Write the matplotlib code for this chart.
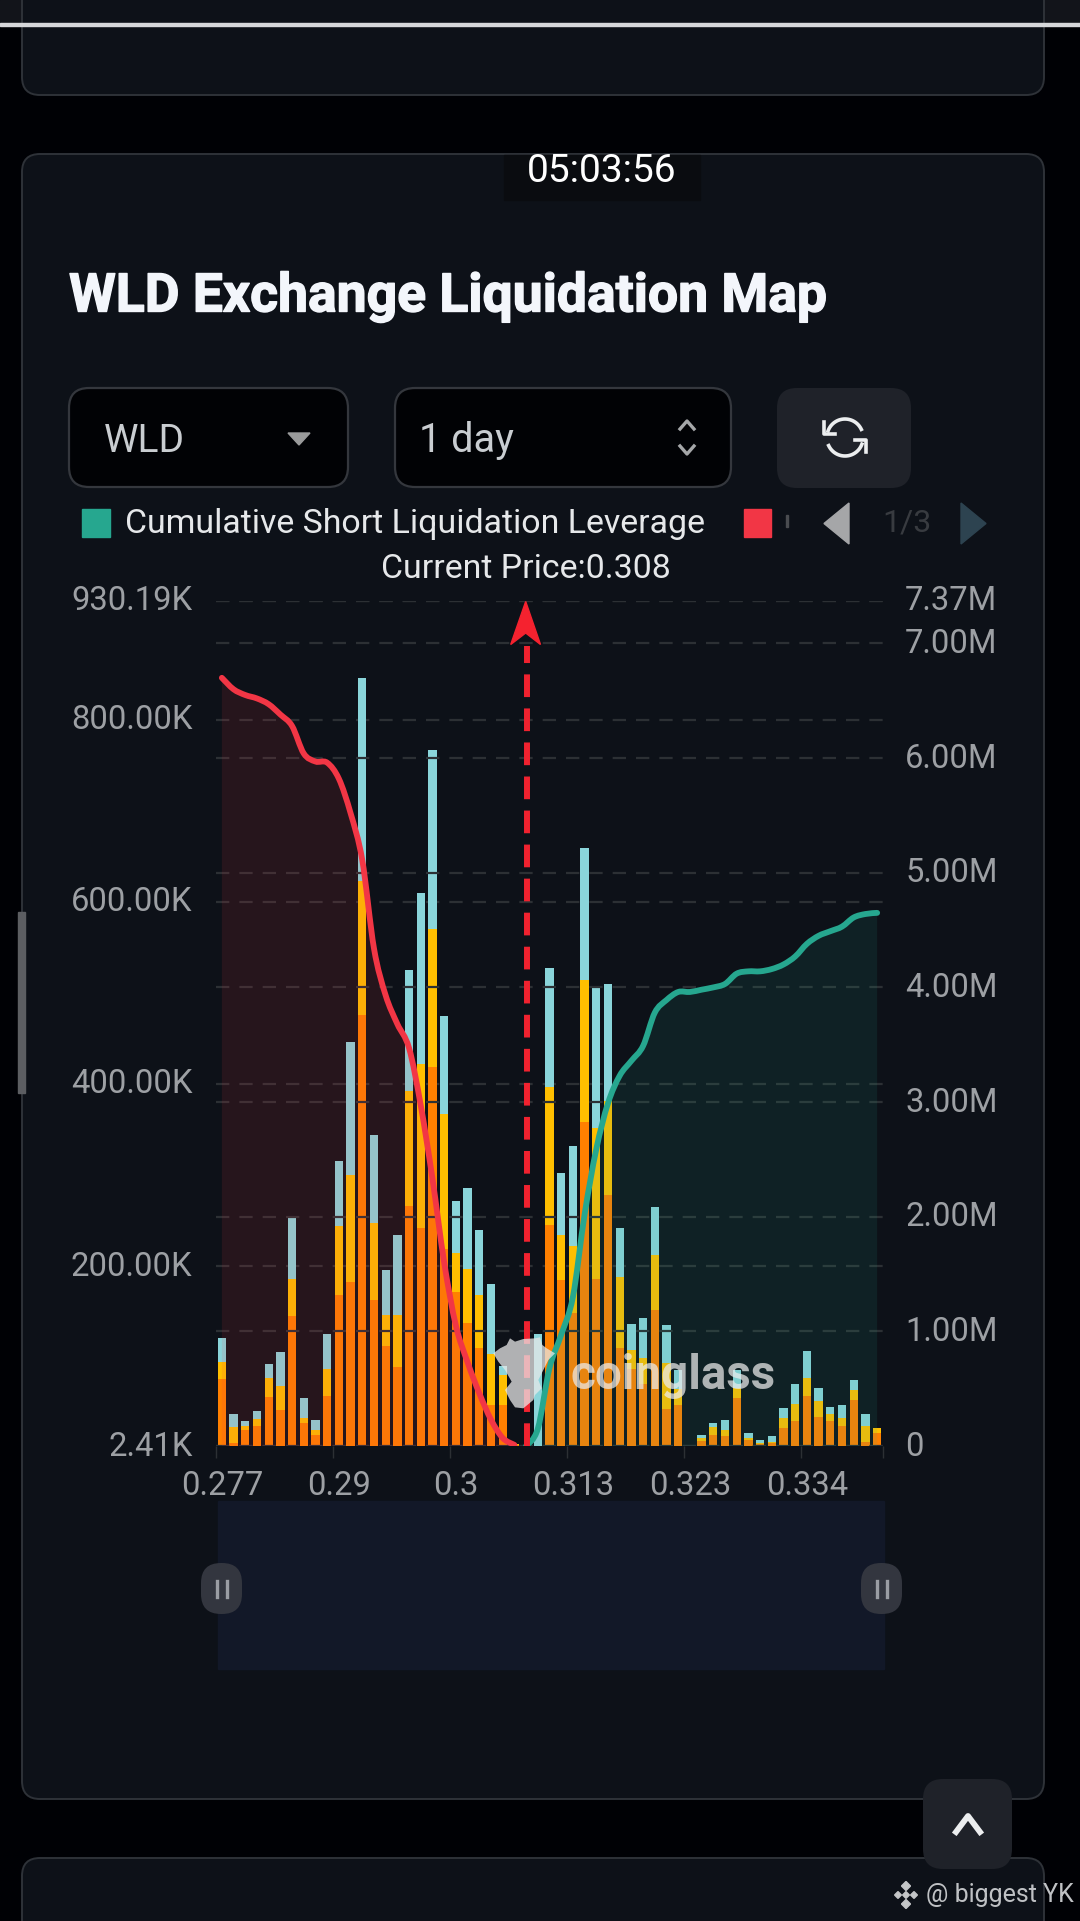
#python3 WLD liquidation map screenshot
import matplotlib
matplotlib.use('Agg')
import matplotlib.pyplot as plt
import matplotlib.patches as patches
import matplotlib.patheffects as effects
from matplotlib.path import Path
from matplotlib.transforms import ScaledTranslation
import numpy as np

W, H = 1080, 1921

priceLabels = ['0.277', '0.29', '0.3', '0.313', '0.323', '0.334']
leftTicks = [2.41, 200, 400, 600, 800, 930.19]
leftLabels = ['2.41K', '200.00K', '400.00K', '600.00K', '800.00K', '930.19K']
rightTicks = [0, 1, 2, 3, 4, 5, 6, 7, 7.37]
rightLabels = ['0', '1.00M', '2.00M', '3.00M', '4.00M', '5.00M', '6.00M', '7.00M', '7.37M']

# top of each stacked segment per price bin, in K
orangeTop = [75.9, 5.9, 20.2, 24.2, 55.8, 42.0, 144.8, 27.7, 14.5, 56.9,
             168.3, 182.1, 475.4, 163.1, 112.0, 89.1, 265.9, 242.3, 418.6, 218.2,
             171.2, 137.3, 109.7, 47.2, 47.7, 3.5, 2.41, 2.41, 245.0, 184.9,
             147.9, 358.1, 185.8, 278.2, 110.0, 86.9, 70.8, 151.2, 43.1, 47.2,
             2.41, 8.4, 14.9, 13.0, 55.5, 9.3, 4.7, 5.6, 21.8, 30.1,
             57.4, 34.7, 30.1, 24.6, 53.2, 7.0, 17.2]
yellowTop = [94.8, 23.6, 24.2, 31.7, 77.6, 67.8, 185.5, 33.4, 20.2, 86.8,
             244.1, 299.7, 622.9, 246.9, 146.5, 146.5, 392.1, 422.0, 570.1, 366.9,
             214.2, 196.4, 167.7, 103.4, 80.5, 4.5, 2.41, 2.41, 396.9, 234.3,
             221.9, 513.8, 351.2, 381.2, 187.7, 107.3, 98.5, 212.1, 93.4, 64.8,
             2.41, 10.7, 23.2, 20.0, 65.7, 11.6, 6.1, 7.0, 33.4, 48.6,
             77.2, 51.8, 37.1, 33.4, 63.8, 24.1, 22.3]
tealTop = [120.7, 37.4, 30.0, 40.9, 92.5, 105.1, 253.2, 54.6, 30.5, 125.8,
           315.2, 446.1, 845.6, 343.9, 195.3, 233.7, 525.3, 609.1, 766.4, 474.8,
           271.6, 285.4, 240.0, 180.3, 90.2, 4.5, 2.41, 125.8, 526.8, 301.8,
           331.3, 659.4, 506.9, 509.2, 241.7, 136.4, 143.3, 265.3, 135.0, 85.6,
           2.41, 14.0, 27.3, 30.6, 85.6, 16.3, 9.3, 13.0, 44.4, 70.3,
           106.4, 66.2, 45.4, 47.2, 74.9, 38.0, 22.3]

# cumulative leverage in M, by bin index
longCum = [6.70, 6.60, 6.55, 6.52, 6.47, 6.38, 6.28, 6.04, 5.97, 5.96,
           5.82, 5.52, 5.11, 4.34, 3.93, 3.68, 3.47, 2.97, 2.33, 1.60,
           1.05, 0.73, 0.46, 0.23, 0.07, 0.01]
shortCum = [0.0, 0.15, 0.68, 0.97, 1.30, 2.02, 2.59, 2.99, 3.23, 3.36,
            3.49, 3.78, 3.89, 3.96, 3.96, 3.98, 4.00, 4.03, 4.12, 4.14,
            4.14, 4.16, 4.20, 4.27, 4.38, 4.45, 4.49, 4.53, 4.61, 4.64, 4.65]
shortStart = 26
currentBin = 26

BG = '#000105'
CARD = '#0D1118'
EDGE = '#2E3238'
GRID = '#2C3034'
LABEL = '#9DA0A4'
FONT = 'Roboto'


def smoothPath(x, y, close=None):
    # Catmull-Rom through the points, written as cubic beziers
    x = np.asarray(x, float)
    y = np.asarray(y, float)
    verts = [(x[0], y[0])]
    codes = [Path.MOVETO]
    for i in range(len(x) - 1):
        p0 = max(i - 1, 0)
        p3 = min(i + 2, len(x) - 1)
        verts.append((x[i] + (x[i + 1] - x[p0]) / 6, y[i] + (y[i + 1] - y[p0]) / 6))
        verts.append((x[i + 1] - (x[p3] - x[i]) / 6, y[i + 1] - (y[p3] - y[i]) / 6))
        verts.append((x[i + 1], y[i + 1]))
        codes += [Path.CURVE4] * 3
    if close is not None:
        verts += [(x[-1], close), (x[0], close), (x[0], y[0])]
        codes += [Path.LINETO, Path.LINETO, Path.CLOSEPOLY]
    return Path(verts, codes)


def roundBox(ax, x0, y0, x1, y1, r, face, edge='none', lw=1.4, zorder=1):
    box = patches.FancyBboxPatch((x0 + r, y0 + r), x1 - x0 - 2 * r, y1 - y0 - 2 * r,
                                 boxstyle='round,pad=%f,rounding_size=%f' % (r, r),
                                 facecolor=face, edgecolor=edge, linewidth=lw, zorder=zorder)
    ax.add_patch(box)


def drawPage(ax):
    ax.add_patch(patches.Rectangle((0, 0), W, 24, color='#12141A', zorder=1))
    ax.add_patch(patches.Rectangle((0, 22.5), W, 3, color='#D6D7DA', zorder=2))
    roundBox(ax, 22, -40, 1044, 95, 18, CARD, EDGE)
    roundBox(ax, 22, 154, 1044, 1799, 18, CARD, EDGE)
    roundBox(ax, 22, 1858, 1044, 1990, 18, CARD, EDGE)
    ax.add_patch(patches.Rectangle((18, 912), 7, 181, color='#5C5E62', zorder=3))
    # timestamp
    ax.add_patch(patches.Rectangle((504, 155), 196, 45, color='#0A0C10', zorder=2))
    ax.text(602, 172, '05:03:56', color='white', fontsize=28, family=FONT,
            ha='center', va='center', zorder=3)
    title = ax.text(69, 297, 'WLD Exchange Liquidation Map', color='#F3F6FB', fontsize=38.5,
                    family=FONT, weight='bold', ha='left', va='center', zorder=3)
    title.set_path_effects([effects.withStroke(linewidth=1.0, foreground='#F3F6FB')])
    # selectors
    roundBox(ax, 69, 388, 348, 487, 20, '#010205', '#34373D', 1.6, 2)
    ax.text(104, 441, 'WLD', color='#C9CDD1', fontsize=28, family=FONT, ha='left', va='center', zorder=3)
    ax.add_patch(patches.Polygon([(288, 433), (310, 433), (299, 445)], color='#9A9B9C', zorder=3))
    roundBox(ax, 395, 388, 731, 487, 20, '#010205', '#34373D', 1.6, 2)
    ax.text(419, 441, '1 day', color='#C9CDD1', fontsize=28.5, family=FONT, ha='left', va='center', zorder=3)
    ax.plot([680, 687, 694], [429, 421, 429], color='#A5A7A9', lw=2.4, zorder=3)
    ax.plot([680, 687, 694], [446, 454, 446], color='#A5A7A9', lw=2.4, zorder=3)
    roundBox(ax, 777, 388, 911, 488, 20, '#1F2229', zorder=2)
    # refresh icon
    t = np.radians(np.linspace(200, 335, 30))
    ax.plot(845 + 18 * np.cos(t), 437 + 18 * np.sin(t), color='#ECEEEF', lw=2.6, zorder=3)
    t = np.radians(np.linspace(20, 155, 30))
    ax.plot(845 + 18 * np.cos(t), 438 + 18 * np.sin(t), color='#ECEEEF', lw=2.6, zorder=3)
    ax.plot([824, 824, 835], [422, 434, 434], color='#ECEEEF', lw=2.6, zorder=3)
    ax.plot([855, 866, 866], [440, 440, 452], color='#ECEEEF', lw=2.6, zorder=3)
    # legend row
    ax.add_patch(patches.Rectangle((82, 509), 28, 28, color='#26A78F', zorder=3))
    ax.text(125, 523.5, 'Cumulative Short Liquidation Leverage', color='#E6E8EA', fontsize=24.4,
            family=FONT, ha='left', va='center', zorder=3)
    ax.add_patch(patches.Rectangle((744, 509), 27, 28, color='#F23645', zorder=3))
    ax.add_patch(patches.Rectangle((786, 515), 2, 12, color='#4A4C50', zorder=3))
    ax.add_patch(patches.Polygon([(849, 503), (849, 544), (824, 523.5)], color='#A5A6A8', zorder=3))
    ax.text(907, 523, '1/3', color='#383B40', fontsize=23, family=FONT, ha='center', va='center', zorder=3)
    ax.add_patch(patches.Polygon([(961, 503), (961, 544), (986, 523.5)], color='#2D4350', zorder=3))
    ax.text(525.5, 569.5, 'Current Price:0.308', color='#E6E8EA', fontsize=24.4, family=FONT,
            ha='center', va='center', zorder=3)
    # range slider
    ax.add_patch(patches.Rectangle((218, 1501), 666, 168, color='#121828', zorder=2))
    for cx in [221.5, 881.5]:
        roundBox(ax, cx - 20.5, 1563, cx + 20.5, 1614, 20, '#33363F', zorder=3)
        for dx in [-5, 5]:
            ax.plot([cx + dx, cx + dx], [1581, 1597], color='#9A9DA3', lw=2.4, zorder=4)
    # scroll-to-top button
    roundBox(ax, 923, 1779, 1012, 1869, 20, '#1F2229', zorder=3)
    ax.plot([956, 968, 980], [1832, 1816, 1832], color='#ECEEEF', lw=4.2, zorder=4)
    # watermark
    ax.text(926, 1895, '@ biggest YK', color='#BFC1C4', fontsize=18, family=FONT, ha='left', va='center', zorder=4)
    for dx, dy in [(0, -9), (-8, 0), (8, 0), (0, 9), (0, 0)]:
        size = 3.4 if (dx or dy == 0) else 4.5
        ax.add_patch(patches.Polygon([(906 + dx, 1895 + dy - size), (906 + dx + size, 1895 + dy),
                                      (906 + dx, 1895 + dy + size), (906 + dx - size, 1895 + dy)],
                                     color='#C4C6C8', zorder=4))


def drawChart(ax, ax2, fig):
    n = len(tealTop)
    x = np.arange(n)
    orange = np.array(orangeTop)
    yellow = np.array(yellowTop)
    teal = np.array(tealTop)
    barW = 0.71
    ax.bar(x, orange - 2.41, barW, bottom=2.41, color='#FF8000', zorder=3)
    ax.bar(x, yellow - orange, barW, bottom=orange, color='#FFBF00', zorder=3)
    ax.bar(x, teal - yellow, barW, bottom=yellow, color='#8AD5DA', zorder=3)

    ax.set_xlim(-0.5, n - 0.5)
    ax.set_ylim(2.41, 930.19)
    ax.set_yticks(leftTicks)
    ax.set_yticklabels(leftLabels)
    ax.set_xticks(np.arange(len(priceLabels)) * 10)
    ax.set_xticklabels(priceLabels)
    ax.set_xticks(list(np.arange(-0.5, n, 10)) + [n - 0.5], minor=True)
    ax.tick_params(axis='x', which='major', length=0, pad=17, labelsize=23.6, labelcolor=LABEL)
    ax.tick_params(axis='x', which='minor', length=8.6, width=1, color=GRID)
    ax.tick_params(axis='y', length=0, pad=17, labelsize=23.6, labelcolor=LABEL)

    ax2.set_ylim(0, 7.37)
    ax2.set_yticks(rightTicks)
    ax2.set_yticklabels(rightLabels)
    ax2.tick_params(axis='y', length=0, pad=16, labelsize=23.6, labelcolor=LABEL)

    # value labels sit slightly above their grid lines
    lift = ScaledTranslation(0, 3 / 100, fig.dpi_scale_trans)
    for a in [ax, ax2]:
        a.set_facecolor('none')
        for s in a.spines.values():
            s.set_visible(False)
        a.yaxis.grid(True, color=GRID, lw=1.6, dashes=(6, 4.5))
        a.set_axisbelow(True)
        for lab in a.get_xticklabels():
            lab.set_family(FONT)
        for lab in a.get_yticklabels():
            lab.set_family(FONT)
            lab.set_transform(lab.get_transform() + lift)

    # cumulative areas and lines sit above the bars
    xLong = np.arange(len(longCum))
    xShort = np.arange(len(shortCum)) + shortStart
    ax2.add_patch(patches.PathPatch(smoothPath(xLong, longCum, close=0), facecolor='#F23645',
                                    edgecolor='none', alpha=0.11, zorder=2))
    ax2.add_patch(patches.PathPatch(smoothPath(xShort, shortCum, close=0), facecolor='#26A78F',
                                    edgecolor='none', alpha=0.11, zorder=2))
    ax2.add_patch(patches.PathPatch(smoothPath(xLong, longCum), facecolor='none',
                                    edgecolor='#F23645', lw=4.2, zorder=4, capstyle='round'))
    ax2.add_patch(patches.PathPatch(smoothPath(xShort, shortCum), facecolor='none',
                                    edgecolor='#26A78F', lw=4.2, zorder=4, capstyle='round'))
    # current price marker
    ax2.plot([currentBin + 0.1, currentBin + 0.1], [0, 6.98], color='#F0222F', lw=4.3,
             dashes=(3.8, 1.9), zorder=5, dash_capstyle='butt')


def drawOverlay(ax):
    ax.add_patch(patches.Polygon([(525.7, 601.5), (540.5, 644.5), (525.7, 633), (510.7, 644.5)],
                                 color='#F5222F', zorder=5))
    # coinglass mark
    blob = [(40, 100), (60, 85), (80, 75), (90, 55), (105, 65), (130, 57), (165, 55), (180, 52),
            (187, 75), (200, 85), (225, 100), (205, 120), (190, 150), (175, 180), (185, 205),
            (165, 225), (160, 240), (130, 265), (105, 262), (90, 240), (75, 210), (95, 185),
            (75, 150), (55, 125)]
    ax.add_patch(patches.Polygon([(480 + p[0] / 3, 1320 + p[1] / 3) for p in blob],
                                 facecolor='#E8E8E8', edgecolor='none', alpha=0.75, zorder=5))
    ax.text(570, 1376, 'coinglass', color='#ECECEC', alpha=0.72, fontsize=34.3, family=FONT,
            weight='bold', ha='left', va='center', zorder=5)


def main():
    fig = plt.figure(figsize=(W / 100, H / 100), dpi=100, facecolor=BG)

    page = fig.add_axes([0, 0, 1, 1], zorder=0)
    page.set_xlim(0, W)
    page.set_ylim(H, 0)
    page.axis('off')
    drawPage(page)

    ax = fig.add_axes([216 / W, (H - 1446) / H, 667 / W, 845 / H], zorder=1)
    ax2 = ax.twinx()
    ax2.set_zorder(2)
    drawChart(ax, ax2, fig)

    top = fig.add_axes([0, 0, 1, 1], zorder=3)
    top.set_xlim(0, W)
    top.set_ylim(H, 0)
    top.axis('off')
    drawOverlay(top)

    fig.savefig('out.png', dpi=100, facecolor=BG)


if __name__ == "__main__":
    main()
